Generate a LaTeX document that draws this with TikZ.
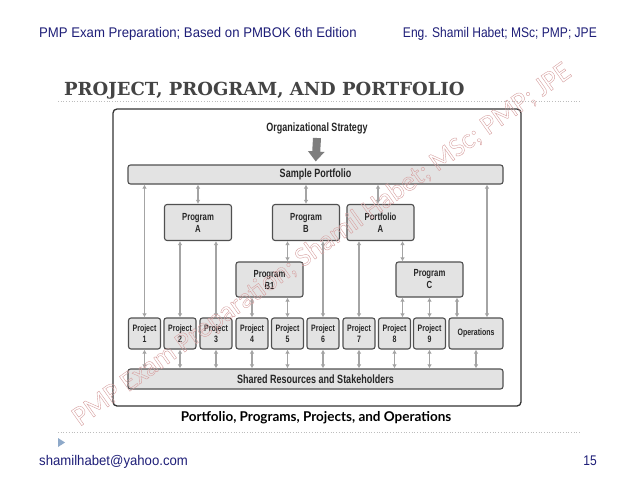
\documentclass[tikz,border=0pt]{standalone}
\usepackage{fontspec}
\usetikzlibrary{arrows.meta}
\setmainfont{Liberation Sans}
\newfontfamily\hdrfont[FakeStretch=0.86]{Liberation Sans}
\newfontfamily\hdrwidefont[FakeStretch=0.94]{Liberation Sans}
\newfontfamily\titlefont{DejaVu Serif}
\newfontfamily\boxfont[FakeStretch=0.75]{Liberation Sans}
\newfontfamily\capfont{Lato}
\newfontfamily\wmfont{Carlito}
\definecolor{hdrblue}{HTML}{1E1E78}
\definecolor{titlegray}{HTML}{444444}
\definecolor{boxfill}{HTML}{E3E3E3}
\definecolor{boxline}{HTML}{505050}
\definecolor{arrgray}{HTML}{A4A4A4}
\definecolor{fatgray}{HTML}{7E7E7E}
\definecolor{dotgray}{HTML}{BDBDBD}
\definecolor{tri}{HTML}{8EA9C9}
\definecolor{wmpink}{RGB}{215,160,160}
\begin{document}
\begin{tikzpicture}[x=1pt,y=-1pt,
  box/.style={draw=boxline, fill=boxfill, line width=1.1pt, rounded corners=2.5pt,
    inner sep=0pt, align=center, text=black!85, font=\boxfont\bfseries\fontsize{9.3}{10.5}\selectfont},
  bar/.style={box, minimum width=375pt, font=\boxfont\bfseries\fontsize{12}{13}\selectfont},
  prog/.style={box, minimum width=67pt, minimum height=36pt, font=\boxfont\bfseries\fontsize{10.3}{12}\selectfont},
  proj/.style={box, minimum width=32pt, minimum height=31pt},
  conn/.style={draw=arrgray, line width=1.4pt, {Latex[length=4pt,width=4.5pt]}-{Latex[length=4pt,width=4.5pt]}},
  hdr/.style={text=hdrblue, inner sep=0pt, font=\hdrfont\fontsize{14}{16}\selectfont},
  hdrw/.style={hdr, font=\hdrwidefont\fontsize{14}{16}\selectfont},
  dotline/.style={draw=dotgray, dotted, line width=0.7pt}]
\useasboundingbox[fill=white] (0,0) rectangle (638,493);

% header and footer
\node[hdrw, anchor=base west] (h1) at (39,37) {PMP Exam Preparation; Based on PMBOK 6th Edition};
\node[hdr, anchor=base east] (h2) at (597,37) {Eng. Shamil Habet; MSc; PMP; JPE};
\node[anchor=base west, inner sep=0pt, text=titlegray, font=\titlefont\bfseries\fontsize{18}{20}\selectfont] (title) at (64,95) {PROJECT, PROGRAM, AND PORTFOLIO};
\draw[dotline] (58,101) -- (580,101);
\draw[dotline] (58,432) -- (580,432);
\fill[tri] (58,438) -- (65,442.5) -- (58,447) -- cycle;
\node[hdrw, anchor=base west] (mail) at (39,465) {shamilhabet@yahoo.com};
\node[hdr, anchor=base east] (page) at (597,465) {15};

% frame
\draw[draw=black!80, line width=1.3pt, rounded corners=4pt] (113,109) rectangle (521,406);

% nodes
\node[inner sep=1pt, text=black!85, font=\boxfont\bfseries\fontsize{12}{13}\selectfont] (OS) at (317,128) {Organizational Strategy};
\node[bar, minimum height=19pt] (SP) at (315.5,174.5) {Sample Portfolio};
\node[bar, minimum height=20pt] (SR) at (315.5,379) {Shared Resources and Stakeholders};

\node[prog] (PA) at (198,222.5) {Program\\A};
\node[prog] (PB) at (306,222.5) {Program\\B};
\node[prog] (PF) at (380.5,222.5) {Portfolio\\A};
\node[prog, minimum height=35pt] (B1) at (269.5,279.5) {Program\\B1};
\node[prog, minimum height=35pt] (PC) at (429.5,279.5) {Program\\C};

\node[proj] (P1) at (144.5,333.5) {Project\\1};
\node[proj] (P2) at (180,333.5) {Project\\2};
\node[proj] (P3) at (216,333.5) {Project\\3};
\node[proj] (P4) at (252,333.5) {Project\\4};
\node[proj] (P5) at (287.5,333.5) {Project\\5};
\node[proj] (P6) at (323,333.5) {Project\\6};
\node[proj] (P7) at (359,333.5) {Project\\7};
\node[proj] (P8) at (394.5,333.5) {Project\\8};
\node[proj] (P9) at (429.5,333.5) {Project\\9};
\node[proj, minimum width=54pt] (OP) at (476,333.5) {Operations};

% fat arrow
\draw[draw=fatgray, line width=8pt, -{Triangle[length=10pt,width=16pt]}, shorten >=3pt]
  ([yshift=-10pt]OS.center) -- (SP.north);

% connectors
\coordinate (pf1) at ([xshift=-2.5pt]PF.north);
\coordinate (op1) at ([xshift=11pt]OP.north);
\coordinate (pc1) at ([xshift=-27pt]PC.north);
\coordinate (pc3) at ([xshift=27.5pt]PC.south);
\draw[conn] (SP.south -| P1) -- (P1.north);
\draw[conn] (SP.south -| PA) -- (PA.north);
\draw[conn] (SP.south -| PB) -- (PB.north);
\draw[conn] (SP.south -| pf1) -- (pf1);
\draw[conn] (SP.south -| op1) -- (op1);
\draw[conn] (PA.south -| P2) -- (P2.north);
\draw[conn] (PA.south -| P3) -- (P3.north);
\draw[conn] (PB.south -| P5) -- (B1.north -| P5);
\draw[conn] (PB.south -| P6) -- (P6.north);
\draw[conn] (PF.south -| P7) -- (P7.north);
\draw[conn] (PF.south -| pc1) -- (pc1);
\draw[conn] (B1.south -| P4) -- (P4.north);
\draw[conn] (B1.south -| P5) -- (P5.north);
\draw[conn] (PC.south -| pc1) -- (P8.north -| pc1);
\draw[conn] (PC.south -| P9) -- (P9.north);
\draw[conn] (pc3) -- (OP.north -| pc3);
\foreach \p in {P1,P2,P3,P4,P5,P6,P7,P8,P9,OP}
  \draw[conn] (\p.south) -- (SR.north -| \p);

% caption
\node[anchor=base, inner sep=0pt, font=\capfont\bfseries\fontsize{13.5}{15}\selectfont] (cap) at (316,421) {Portfolio, Programs, Projects, and Operations};

% watermark
\node[rotate=35.5, inner sep=0pt, text=wmpink, font=\wmfont\fontsize{28}{30}\selectfont] (wm) at (322,245)
  {\special{pdf:literal direct 1 Tr 0.4 w}PMP Exam Preparation; Shamil Habet; MSc; PMP; JPE\special{pdf:literal direct 0 Tr}};
\end{tikzpicture}
\end{document}
